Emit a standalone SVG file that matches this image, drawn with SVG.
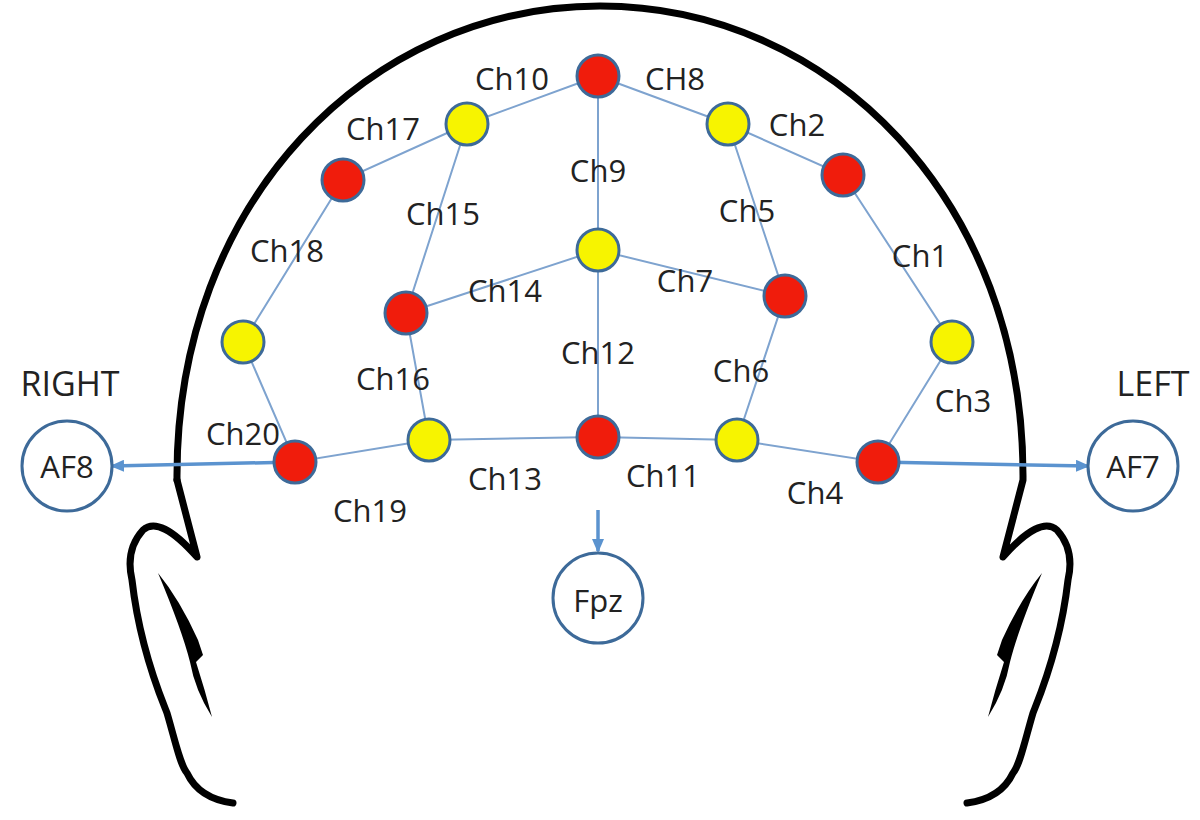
<svg xmlns="http://www.w3.org/2000/svg" width="1200" height="820" viewBox="0 0 1200 820">
<style>
text{font-family:"Open Sans","Liberation Sans",sans-serif;font-size:31px;fill:#222;text-anchor:middle;dominant-baseline:central}
.big{font-size:34px}
.r{fill:#f01c0c;stroke:#3d6a99;stroke-width:3}
.y{fill:#f7f400;stroke:#3d6a99;stroke-width:3}
.e{stroke:#7ea3cf;stroke-width:2;fill:none}
.ref{fill:#fff;stroke:#3d6a99;stroke-width:3}
.head{fill:none;stroke:#000;stroke-width:7;stroke-linecap:round;stroke-linejoin:round}
.arr{stroke:#5b93cf;stroke-width:3.5;fill:none}
</style>
<defs><marker id="ah" markerWidth="14" markerHeight="12" refX="12" refY="6" orient="auto" markerUnits="userSpaceOnUse"><path d="M0,0 L14,6 L0,12 Z" fill="#5b93cf"/></marker></defs>
<rect width="1200" height="820" fill="#fff"/>
<g id="head">
<path class="head" d="M177,480 C175,200 370,6 600,6 C830,6 1025,200 1023,480 L1003,557 Q1040,515 1057,530 Q1075,550 1068,580 C1060,650 1038,700 1033,713 C1025,740 1020,765 1013,773 C1005,790 990,800 967,803"/>
<path class="head" d="M177,480 L197,557 Q160,515 143,530 Q125,550 132,580 C140,650 162,700 167,713 C175,740 180,765 187,773 C195,790 210,800 233,803"/>
<path d="M158,573 Q180,600 198,640 L203,655 L196,662 Q205,690 212,717 Q195,690 190,662 Q182,630 158,573 Z" fill="#000"/>
<path d="M1042,573 Q1020,600 1002,640 L997,655 L1004,662 Q995,690 988,717 Q1005,690 1010,662 Q1018,630 1042,573 Z" fill="#000"/>
</g>
<g id="connectors">
<path class="e" d="M598,76 L467,124 L343,180 L243,342 L295,462 L429,440 L598,437 L737,440 L878,462 L952,342 L843,175 L728,124 L598,76 L598,250 L598,437 M467,124 L406,313 L429,440 M728,124 L785,296 L737,440 M406,313 L598,250 L785,296"/>
<line class="arr" x1="295" y1="462" x2="112" y2="466" marker-end="url(#ah)"/>
<line class="arr" x1="878" y1="462" x2="1088" y2="466" marker-end="url(#ah)"/>
<line class="arr" x1="598" y1="510" x2="598" y2="551" marker-end="url(#ah)"/>
</g>
<g id="electrodes">
<circle class="r" cx="598" cy="76" r="21"/><circle class="y" cx="467" cy="124" r="21"/><circle class="y" cx="728" cy="124" r="21"/>
<circle class="r" cx="343" cy="180" r="21"/><circle class="r" cx="843" cy="175" r="21"/><circle class="y" cx="598" cy="250" r="21"/>
<circle class="r" cx="406" cy="313" r="21"/><circle class="r" cx="785" cy="296" r="21"/><circle class="y" cx="243" cy="342" r="21"/>
<circle class="y" cx="952" cy="342" r="21"/><circle class="r" cx="295" cy="462" r="21"/><circle class="y" cx="429" cy="440" r="21"/>
<circle class="r" cx="598" cy="437" r="21"/><circle class="y" cx="737" cy="440" r="21"/><circle class="r" cx="878" cy="462" r="21"/>
</g>
<g id="AF8"><circle class="ref" cx="67" cy="466" r="45"/><text x="67" y="466">AF8</text></g>
<g id="AF7"><circle class="ref" cx="1133" cy="466" r="45"/><text x="1133" y="466">AF7</text></g>
<g id="Fpz"><circle class="ref" cx="598" cy="598" r="45"/><text x="598" y="600">Fpz</text></g>
<g id="labels">
<text x="512" y="78">Ch10</text><text x="675" y="78">CH8</text><text x="383" y="128">Ch17</text><text x="797" y="124">Ch2</text>
<text x="598" y="170">Ch9</text><text x="443" y="213">Ch15</text><text x="747" y="210">Ch5</text><text x="287" y="250">Ch18</text>
<text x="920" y="255">Ch1</text><text x="505" y="290">Ch14</text><text x="685" y="280">Ch7</text><text x="598" y="352">Ch12</text>
<text x="393" y="378">Ch16</text><text x="741" y="370">Ch6</text><text x="243" y="433">Ch20</text><text x="963" y="400">Ch3</text>
<text x="505" y="478">Ch13</text><text x="663" y="475">Ch11</text><text x="370" y="510">Ch19</text><text x="815" y="492">Ch4</text>
<text class="big" x="70" y="383">RIGHT</text><text class="big" x="1153" y="383">LEFT</text>
</g>
</svg>
